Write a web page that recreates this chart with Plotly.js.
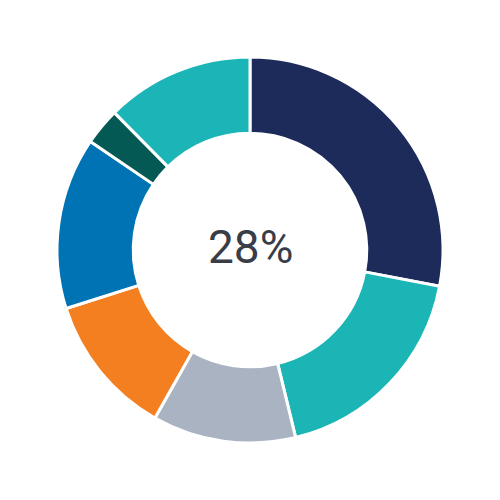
<!DOCTYPE html>
<html>
<head>
<meta charset="utf-8">
<script src="https://cdn.plot.ly/plotly-3.0.1.min.js"></script>
<style>
  html, body { margin: 0; padding: 0; background: #fff; }
  #chart { width: 500px; height: 500px; }
</style>
</head>
<body>
<div id="chart"></div>
<script>
// slice shares, clockwise from 12 o'clock
let labels = ["A", "B", "C", "D", "E", "F", "G"];
let values = [28, 18.2, 12, 11.9, 14.4, 3.1, 12.4];
let colors = ["#1d2b5b", "#1bb5b6", "#a9b3c2", "#f47f20", "#0073b5", "#045955", "#1cb5b7"];
let center_text = "28%";

let trace = {
    type: "pie",
    labels: labels,
    values: values,
    hole: 0.605,
    sort: false,
    direction: "clockwise",
    rotation: 0,
    textinfo: "none",
    hoverinfo: "none",
    marker: { colors: colors, line: { color: "#ffffff", width: 3 } },
    showlegend: false
};

let layout = {
    width: 500,
    height: 500,
    margin: { l: 57, r: 57, t: 57, b: 57 },
    paper_bgcolor: "#ffffff",
    annotations: [{
        text: center_text,
        x: 0.5, y: 0.5,
        xref: "paper", yref: "paper",
        yshift: 3,
        showarrow: false,
        font: { family: "Roboto, sans-serif", size: 46, color: "#393d48" }
    }]
};

Plotly.newPlot("chart", [trace], layout, { displayModeBar: false, staticPlot: true });
</script>
</body>
</html>
